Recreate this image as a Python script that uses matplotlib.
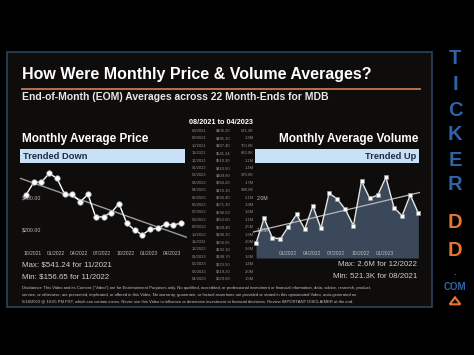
import numpy as np
import matplotlib

matplotlib.use("Agg")
import matplotlib.pyplot as plt
from matplotlib.patches import Rectangle, RegularPolygon

plt.rcParams["font.family"] = ["Liberation Sans", "DejaVu Sans"]

W, H = 474, 355

months = [
    "08/2021", "09/2021", "10/2021", "11/2021", "12/2021",
    "01/2022", "02/2022", "03/2022", "04/2022", "05/2022", "06/2022",
    "07/2022", "08/2022", "09/2022", "10/2022", "11/2022", "12/2022",
    "01/2023", "02/2023", "03/2023", "04/2023",
]
avg_price = [
    406.2, 485.1, 487.4, 541.24, 510.3, 410.5, 409.8, 364.2, 410.1, 266.4, 271.3,
    296.5, 352.0, 229.4, 188.3, 156.65, 192.1, 198.7, 223.5, 219.2, 229.8,
]
avg_volume = [
    0.5213, 1.31, 0.70, 0.66, 1.05, 1.43, 0.97, 1.70, 0.99, 2.10, 1.92,
    1.59, 1.08, 2.48, 1.94, 2.04, 2.60, 1.64, 1.39, 2.04, 1.47,
]
tick_months = ["10/2021", "01/2022", "04/2022", "07/2022", "10/2022", "01/2023", "04/2023"]
vol_tick_months = ["01/2022", "04/2022", "07/2022", "10/2022", "01/2023"]

disclaimer = [
    'Disclaimer: This Video and its Content ("Video") are for Entertainment Purposes only. No qualified, accredited, or professional investment or financial information, data, advice, research, product,',
    "service, or otherwise, are presented, implicated, or offered in this Video. No warranty, guarantee, or factual assertions are provided or stated in this opinionated Video, auto-generated on",
    "5/18/2023 @ 10:05 PM PST, which can contain errors. Never use this Video to influence or determine investment or financial decisions. Review IMPORTANT DISCLAIMER at the end.",
]


def fx(x):
    return x / W


def fy(y):
    return 1 - y / H


def box(left, top, right, bottom):
    return [fx(left), fy(bottom), (right - left) / W, (bottom - top) / H]


def text(x, y, s, **kw):
    kw.setdefault("va", "center")
    kw.setdefault("color", "white")
    fig.text(fx(x), fy(y), s, **kw)


def band(left, top, right, bottom, **kw):
    fig.add_artist(Rectangle((fx(left), fy(bottom)), (right - left) / W, (bottom - top) / H,
                             transform=fig.transFigure, **kw))


def fmt_vol(v):
    return f"{v:.1f}M" if v >= 1 else f"{v * 1000:.1f}K"


fig = plt.figure(figsize=(W / 100, H / 100), dpi=100, facecolor="black")

# main panel (kept behind the axes)
band(7, 52, 432, 307, facecolor="#0f0d0c", edgecolor="#2b4461", linewidth=1.2, zorder=-5)

text(22, 75, "How Were Monthly Price & Volume Averages?", fontsize=11.5, fontweight="bold")
fig.add_artist(plt.Line2D([fx(22), fx(420)], [fy(89), fy(89)], color="#c47a55", linewidth=1.3))
text(22, 97, "End-of-Month (EOM) Averages across 22 Month-Ends for MDB", fontsize=7.5,
     fontweight="bold", color="#e8e8e8")

# left panel headings
text(22, 139, "Monthly Average Price", fontsize=8.5, fontweight="bold")
band(20, 149, 185, 163, facecolor="#c9e1f6", edgecolor="none")
text(23, 156, "Trended Down", fontsize=6.7, fontweight="bold", color="#1c2a44")

# right panel headings
text(418, 139, "Monthly Average Volume", fontsize=8.5, fontweight="bold", ha="right")
band(255, 149, 419, 163, facecolor="#c9e1f6", edgecolor="none")
text(416, 156, "Trended Up", fontsize=6.7, fontweight="bold", color="#1c2a44", ha="right")

x = np.arange(len(months))

# price chart
ax = fig.add_axes(box(20, 168, 187, 248))
ax.set_facecolor("none")
coef = np.polyfit(x, avg_price, 1)
ax.plot([-0.77, 20.77], np.polyval(coef, [-0.77, 20.77]), color="#9a9a9a", linewidth=1.0)
ax.plot(x, avg_price, color="white", linewidth=1.0, marker="o", markersize=4,
        markerfacecolor="white", markeredgecolor="#9aa0a8", markeredgewidth=0.5)
ax.set_xlim(-0.77, 20.77)
ax.set_ylim(75, 575)
ax.set_xticks([months.index(m) for m in tick_months])
ax.set_xticklabels(tick_months, fontsize=3.6, color="#bdbdbd", ha="right")
ax.tick_params(axis="x", length=0, pad=2.5)
ax.set_yticks([])
for v in (400, 200):
    ax.text(0.01, v, f"${v:.2f}", transform=ax.get_yaxis_transform(), fontsize=3.8,
            color="#bdbdbd", va="top")
for s in ax.spines.values():
    s.set_visible(False)

text(22, 265, f"Max: ${max(avg_price):.2f} for {months[int(np.argmax(avg_price))]}",
     fontsize=5.7, color="#d0d0d0")
text(22, 277, f"Min: ${min(avg_price):.2f} for {months[int(np.argmin(avg_price))]}",
     fontsize=5.7, color="#d0d0d0")

# volume chart
ax2 = fig.add_axes(box(253, 170, 420, 258))
ax2.set_facecolor("none")
ax2.fill_between(x, avg_volume, 0.06, color="#3a4859", linewidth=0)
coef2 = np.polyfit(x, avg_volume, 1)
ax2.plot([-0.37, 20.2], np.polyval(coef2, [-0.37, 20.2]), color="#b8b8b8", linewidth=0.9)
ax2.plot(x, avg_volume, color="#e6e6e6", linewidth=1.0, marker="s", markersize=3,
         markerfacecolor="white", markeredgecolor="#9aa0a8", markeredgewidth=0.4)
ax2.set_xlim(-0.37, 20.2)
ax2.set_ylim(0.06, 2.83)
ax2.set_xticks([months.index(m) for m in vol_tick_months])
ax2.set_xticklabels(vol_tick_months, fontsize=3.6, color="#bdbdbd", ha="right")
ax2.tick_params(axis="x", length=0, pad=-5)
ax2.set_yticks([])
for v in (2.0, 1.0):
    ax2.text(0.02, v, f"{v:.1f}M", transform=ax2.get_yaxis_transform(), fontsize=3.8,
             color="#bdbdbd", va="top")
for s in ax2.spines.values():
    s.set_visible(False)

text(417, 265, f"Max: {fmt_vol(max(avg_volume))} for {months[int(np.argmax(avg_volume))]}",
     fontsize=5.7, color="#d0d0d0", ha="right")
text(417, 277, f"Min: {fmt_vol(min(avg_volume))} for {months[int(np.argmin(avg_volume))]}",
     fontsize=5.7, color="#d0d0d0", ha="right")

# middle table
text(221, 122, f"{months[0]} to {months[-1]}", fontsize=5.3, fontweight="bold", ha="center")
for i, m in enumerate(months):
    y = 131 + i * 7.4
    text(192, y, m, fontsize=3.0, color="#8c8c8c")
    text(231, y, f"${avg_price[i]:.2f}", fontsize=3.0, color="#8c8c8c", ha="right")
    text(254, y, fmt_vol(avg_volume[i]), fontsize=3.0, color="#8c8c8c", ha="right")

for i, line in enumerate(disclaimer):
    text(22, 288 + i * 6.6, line, fontsize=3.0, color="#c4c4c4")

# side brand
blue, orange = "#2f63a8", "#e8762e"
for ch, y, c in [("T", 58, blue), ("I", 84, blue), ("C", 110, blue), ("K", 135, blue),
                 ("E", 160, blue), ("R", 185, blue), ("D", 222, orange), ("D", 250, orange)]:
    text(455, y, ch, fontsize=14.5, fontweight="bold", color=c, ha="center")
text(455, 272, ".", fontsize=7, fontweight="bold", color=blue, ha="center")
text(455, 287, "COM", fontsize=7, fontweight="bold", color=blue, ha="center")
fig.add_artist(RegularPolygon((fx(455), fy(302)), 3, radius=0.013, transform=fig.transFigure,
                              facecolor="none", edgecolor=orange, linewidth=1.5))

fig.savefig("out.png", dpi=100, facecolor="black")
